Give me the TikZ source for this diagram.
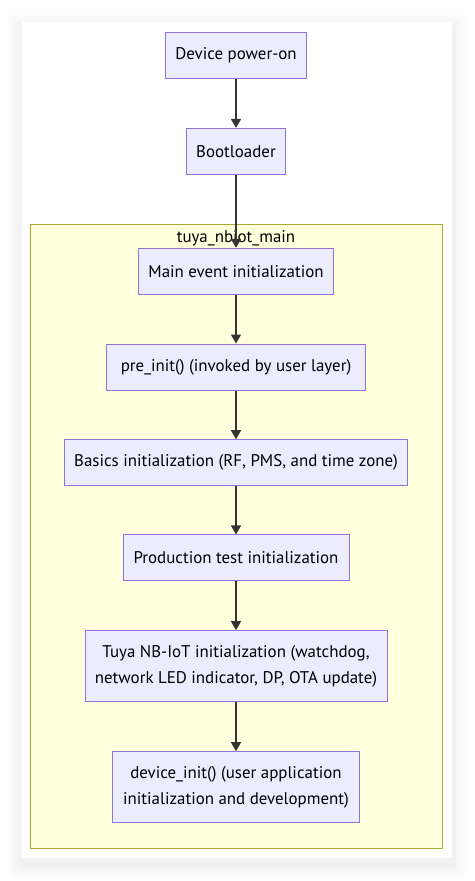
\documentclass[tikz,border=0pt]{standalone}
\usepackage{fontspec}
\setmainfont{PT Sans}
\usetikzlibrary{positioning, arrows.meta}

\definecolor{boxfill}{HTML}{ECECFF}
\definecolor{boxline}{HTML}{9370DB}
\definecolor{grpfill}{HTML}{FFFFDE}
\definecolor{grpline}{HTML}{AAAA33}
\definecolor{edge}{HTML}{333333}

\begin{document}
\begin{tikzpicture}[x=1pt, y=-1pt,
    box/.style={draw=boxline, fill=boxfill, line width=1pt, align=center,
        inner sep=0pt, font=\fontsize{16.9}{26}\selectfont, text=black},
    flow/.style={draw=edge, line width=1.6pt, -{Triangle[length=9pt, width=10pt]}}]
    \useasboundingbox (0,0) rectangle (474,881);
    % card with a soft shadow
    \foreach \s in {14,12,...,2}
        \fill[black, opacity=0.006] (22-\s,22-\s+6) rectangle (452+\s,858+\s+6);
    \fill[white] (22,22) rectangle (452,858);
    % subgraph
    \draw[grpline, fill=grpfill, line width=0.8pt] (30,224) rectangle (442,848);
    \node[font=\fontsize{16.9}{18}\selectfont] (grp) at (236,238) {tuya\_nbiot\_main};
    % steps
    \node[box, minimum width=140.3pt, minimum height=45.6pt] (power) at (236,55.5) {Device power-on};
    \node[box, minimum width=98.3pt, minimum height=45.7pt] (boot) at (236,151.2) {Bootloader};
    \node[box, minimum width=194.3pt, minimum height=46pt] (mainev) at (236,271.3) {Main event initialization};
    \node[box, minimum width=258.3pt, minimum height=46pt] (preinit) at (236,367) {pre\_init() (invoked by user layer)};
    \node[box, minimum width=342.3pt, minimum height=45.6pt] (basics) at (236,462.5) {Basics initialization (RF, PMS, and time zone)};
    \node[box, minimum width=226pt, minimum height=45.7pt] (prodtest) at (236,557.8) {Production test initialization};
    \node[box, minimum width=302pt, minimum height=71.3pt] (nbiot) at (236,666.3) {Tuya NB-IoT initialization (watchdog,\\network LED indicator, DP, OTA update)};
    \node[box, minimum width=246.3pt, minimum height=71.3pt] (devinit) at (236,787.3) {device\_init() (user application\\initialization and development)};
    % arrows
    \draw[flow] (power) -- (boot);
    \draw[flow] (boot) -- (mainev);
    \draw[flow] (mainev) -- (preinit);
    \draw[flow] (preinit) -- (basics);
    \draw[flow] (basics) -- (prodtest);
    \draw[flow] (prodtest) -- (nbiot);
    \draw[flow] (nbiot) -- (devinit);
\end{tikzpicture}
\end{document}
